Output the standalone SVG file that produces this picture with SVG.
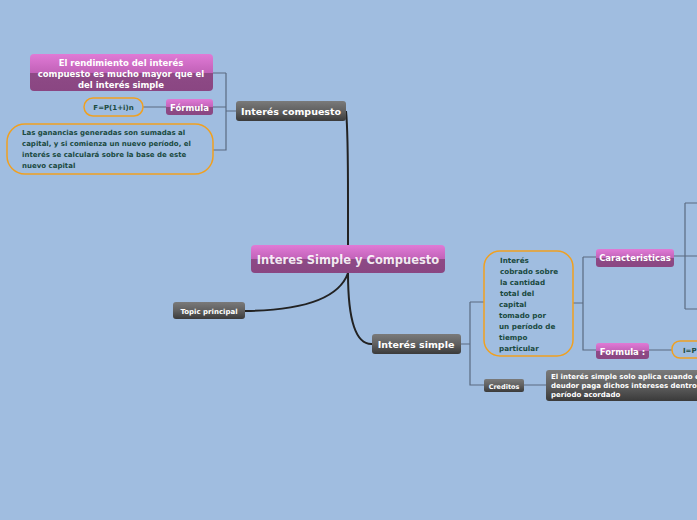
<svg xmlns="http://www.w3.org/2000/svg" width="697" height="520" viewBox="0 0 697 520">
<defs>
<linearGradient id="pk" x1="0" y1="0" x2="0" y2="1"><stop offset="0" stop-color="#e07ad6"/><stop offset="0.5" stop-color="#c262b8"/><stop offset="0.5" stop-color="#8e4a86"/><stop offset="1" stop-color="#8a4682"/></linearGradient>
<linearGradient id="gr" x1="0" y1="0" x2="0" y2="1"><stop offset="0" stop-color="#7a7a7a"/><stop offset="0.5" stop-color="#606060"/><stop offset="1" stop-color="#3a3a3a"/></linearGradient>
<style>
.pk{fill:url(#pk)}
.gr{fill:url(#gr)}
.ob{fill:#a0bde0;stroke:#f0a020;stroke-width:1.5}
.w{fill:#fff;font-family:"DejaVu Sans",sans-serif;font-weight:bold}
.d{fill:#1a4a40;font-family:"DejaVu Sans",sans-serif;font-weight:bold}
.c path{fill:none}
.thin{stroke:#5a6a80;stroke-width:1.2}
.thick{stroke:#222;stroke-width:2}
</style>
</defs>
<rect width="697" height="520" fill="#a0bde0"/>
<g class="c">
<path class="thick" d="M346 111 Q348 130 348 200 L348 245"/>
<path class="thick" d="M348 273 Q348 345 372 344"/>
<path class="thick" d="M348 273 Q335 310 245 311"/>
<path class="thin" d="M236 111 L226 111 M226 73 L213 73 M226 73 L226 150 L213 150 M226 107 L213 107 M166 107 L143 107"/>
<path class="thin" d="M461 344 L470 344 M470 302 L470 385 L484 385 M470 302 L484 302 M573 303 L583 303 M583 257 L583 350 L596 350 M583 257 L596 257 M649 350 L672 350 M524 385 L546 385 M674 256 L685 256 M685 203 L685 309 M685 203 L697 203 M685 256 L697 256 M685 309 L697 309"/>
</g>
<g id="main"><rect class="pk" x="251" y="245" width="194" height="28" rx="4"/><text class="w" x="348" y="264" font-size="11.5" text-anchor="middle" fill-opacity="0.9">Interes Simple y Compuesto</text></g>
<g id="compuesto"><rect class="gr" x="236" y="101" width="110" height="20" rx="3"/><text class="w" x="291" y="115" font-size="9.5" text-anchor="middle">Interés compuesto</text></g>
<g id="simple"><rect class="gr" x="372" y="334" width="89" height="20" rx="3"/><text class="w" x="416" y="348" font-size="9.5" text-anchor="middle">Interés simple</text></g>
<g id="topic"><rect class="gr" x="173" y="302" width="72" height="17" rx="3"/><text class="w" x="209" y="314" font-size="7" text-anchor="middle">Topic principal</text></g>
<g id="rend"><rect class="pk" x="30" y="54" width="183" height="37" rx="4"/><text class="w" font-size="8.5" text-anchor="middle"><tspan x="121" y="66">El rendimiento del interés</tspan><tspan x="121" y="77">compuesto es mucho mayor que el</tspan><tspan x="121" y="88">del interés simple</tspan></text></g>
<g id="formula1"><rect class="pk" x="166" y="99" width="47" height="16" rx="3"/><text class="w" x="189.5" y="110.5" font-size="8.5" text-anchor="middle">Fórmula</text></g>
<g id="fp"><rect class="ob" x="84" y="98" width="59" height="18" rx="9"/><text class="d" x="113.5" y="110" font-size="7" text-anchor="middle">F=P(1+i)n</text></g>
<g id="ganancias"><rect class="ob" x="7" y="124" width="206" height="50" rx="18"/><text class="d" font-size="7"><tspan x="22" y="135">Las ganancias generadas son sumadas al</tspan><tspan x="22" y="146">capital, y si comienza un nuevo período, el</tspan><tspan x="22" y="157">interés se calculará sobre la base de este</tspan><tspan x="22" y="168">nuevo capital</tspan></text></g>
<g id="cobrado"><rect class="ob" x="484" y="251" width="89" height="105" rx="16"/><text class="d" font-size="7.2"><tspan x="500" y="263">Interés</tspan><tspan x="500" y="274">cobrado sobre</tspan><tspan x="500" y="285">la cantidad</tspan><tspan x="500" y="296">total del</tspan><tspan x="499" y="307">capital</tspan><tspan x="499" y="318">tomado por</tspan><tspan x="499" y="329">un período de</tspan><tspan x="499" y="340">tiempo</tspan><tspan x="499" y="351">particular</tspan></text></g>
<g id="caract"><rect class="pk" x="596" y="249" width="78" height="18" rx="3"/><text class="w" x="635" y="261" font-size="8.5" text-anchor="middle">Caracteristicas</text></g>
<g id="formula2"><rect class="pk" x="596" y="343" width="53" height="16" rx="3"/><text class="w" x="622.5" y="354.5" font-size="8.5" text-anchor="middle">Formula :</text></g>
<g id="ip"><rect class="ob" x="672" y="341" width="40" height="17" rx="8"/><text class="d" x="683" y="353" font-size="7">I=P</text></g>
<g id="creditos"><rect class="gr" x="484" y="379" width="40" height="13" rx="2"/><text class="w" x="504" y="388.5" font-size="6.5" text-anchor="middle">Creditos</text></g>
<g id="nota"><rect class="gr" x="546" y="370" width="160" height="31" rx="3"/><text class="w" font-size="7"><tspan x="551" y="379">El interés simple solo aplica cuando el</tspan><tspan x="551" y="388">deudor paga dichos intereses dentro</tspan><tspan x="551" y="397">período acordado</tspan></text></g>
</svg>
